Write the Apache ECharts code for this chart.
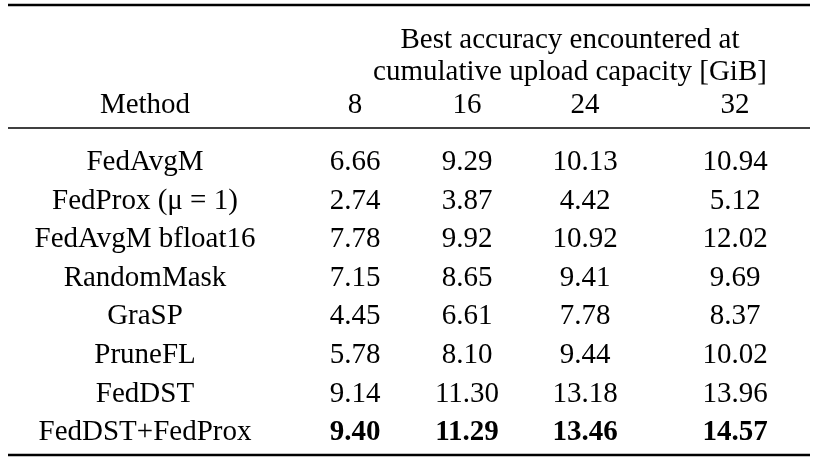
<!DOCTYPE html>
<html>
<head>
<meta charset="utf-8">
<script src="https://cdn.jsdelivr.net/npm/echarts@6/dist/echarts.min.js"></script>
<style>html,body{margin:0;padding:0;background:#fff}#c{width:818px;height:461px}</style>
</head>
<body>
<div id="c"></div>
<script>
var methods = ['FedAvgM', 'FedProx (\u03bc = 1)', 'FedAvgM bfloat16', 'RandomMask', 'GraSP', 'PruneFL', 'FedDST', 'FedDST+FedProx'];
var capacities = ['8', '16', '24', '32'];
var acc8 = ['6.66', '2.74', '7.78', '7.15', '4.45', '5.78', '9.14', '9.40'];
var acc16 = ['9.29', '3.87', '9.92', '8.65', '6.61', '8.10', '11.30', '11.29'];
var acc24 = ['10.13', '4.42', '10.92', '9.41', '7.78', '9.44', '13.18', '13.46'];
var acc32 = ['10.94', '5.12', '12.02', '9.69', '8.37', '10.02', '13.96', '14.57'];
var bestRow = 7;

// column centres in pixels (layout, not data)
var colX = [145, 355, 467, 585, 735];
var font = '"Liberation Serif", "DejaVu Serif", serif';
var chart = echarts.init(document.getElementById('c'));

var cols = [methods, acc8, acc16, acc24, acc32];
var data = [];
cols.forEach(function (col, ci) {
  col.forEach(function (v, ri) {
    data.push({
      value: [colX[ci], methods[ri], v],
      label: { fontWeight: (ri === bestRow && ci > 0) ? 'bold' : 'normal' }
    });
  });
});

var header = [];
capacities.forEach(function (c, i) {
  header.push({ type: 'text', x: colX[i + 1], y: 105, style: { text: c, font: '29px ' + font, fill: '#000', align: 'center', verticalAlign: 'middle' } });
});

chart.setOption({
  animation: false,
  grid: { left: 0, right: 0, top: 143, bottom: 9 },
  xAxis: { type: 'value', min: 0, max: 818, show: false },
  yAxis: { type: 'category', data: methods, inverse: true, show: false },
  series: [{
    type: 'scatter',
    symbolSize: 0,
    itemStyle: { opacity: 1 },
    data: data,
    label: {
      show: true, position: 'inside', color: '#000', fontSize: 29, fontFamily: font,
      formatter: function (p) { return p.value[2]; }
    }
  }],
  graphic: [
    { type: 'line', shape: { x1: 8, y1: 5, x2: 810, y2: 5 }, style: { stroke: '#000', lineWidth: 2.5 } },
    { type: 'line', shape: { x1: 8, y1: 128, x2: 810, y2: 128 }, style: { stroke: '#000', lineWidth: 1.5 } },
    { type: 'line', shape: { x1: 8, y1: 455, x2: 810, y2: 455 }, style: { stroke: '#000', lineWidth: 2.5 } },
    { type: 'text', x: 570, y: 40, style: { text: 'Best accuracy encountered at', font: '29px ' + font, fill: '#000', align: 'center', verticalAlign: 'middle' } },
    { type: 'text', x: 570, y: 72, style: { text: 'cumulative upload capacity [GiB]', font: '29px ' + font, fill: '#000', align: 'center', verticalAlign: 'middle' } },
    { type: 'text', x: colX[0], y: 105, style: { text: 'Method', font: '29px ' + font, fill: '#000', align: 'center', verticalAlign: 'middle' } }
  ].concat(header)
});
</script>
</body>
</html>
